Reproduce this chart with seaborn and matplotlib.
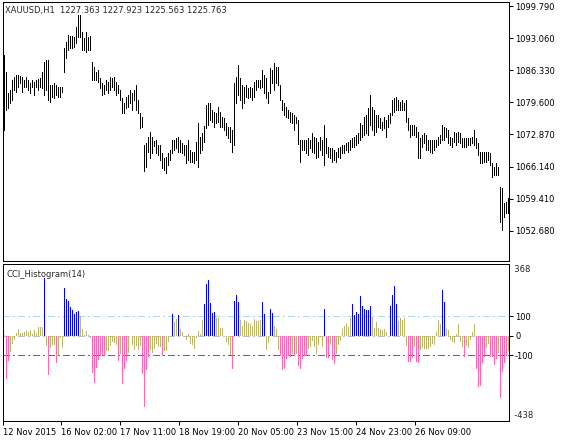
import matplotlib.pyplot as plt
import numpy as np
import pandas as pd
import seaborn as sns

# XAUUSD H1 bars (high / low)
bar_high = [
    1089.6, 1086.0, 1081.6, 1082.2, 1084.3, 1084.9, 1085.4, 1085.4, 1085.2, 1084.9,
    1084.3, 1084.9, 1084.3, 1083.7, 1084.3, 1083.9, 1084.3, 1084.5, 1084.7, 1086.0,
    1088.1, 1088.5, 1088.5, 1083.3, 1083.3, 1083.7, 1083.3, 1082.8, 1082.8, 1082.8,
    1091.0, 1092.3, 1093.8, 1093.5, 1093.5, 1093.3, 1095.4, 1098.0, 1098.0, 1094.4,
    1093.1, 1094.4, 1093.3, 1093.5, 1088.1, 1087.0, 1086.0, 1086.4, 1084.7, 1083.7,
    1083.3, 1084.3, 1083.9, 1084.9, 1084.7, 1084.9, 1083.9, 1083.3, 1082.2, 1080.5,
    1079.5, 1080.7, 1081.2, 1082.2, 1081.6, 1082.2, 1083.3, 1080.1, 1077.4, 1076.5,
    1070.6, 1071.1, 1072.3, 1073.4, 1072.3, 1071.5, 1071.7, 1070.6, 1070.6, 1069.0,
    1067.9, 1068.1, 1069.0, 1069.6, 1071.7, 1071.7, 1072.1, 1072.3, 1071.7, 1071.1,
    1070.6, 1070.6, 1071.7, 1069.6, 1069.2, 1069.2, 1071.3, 1075.3, 1072.3, 1073.2,
    1074.6, 1079.0, 1079.5, 1079.5, 1078.0, 1077.6, 1077.4, 1078.6, 1077.6, 1076.5,
    1076.3, 1075.3, 1074.4, 1074.4, 1073.8, 1083.7, 1084.9, 1087.5, 1084.7, 1083.3,
    1082.8, 1083.3, 1082.6, 1082.8, 1082.6, 1083.9, 1084.3, 1084.3, 1084.3, 1086.4,
    1085.4, 1084.7, 1081.8, 1086.8, 1086.4, 1087.9, 1087.0, 1087.0, 1083.3, 1080.1,
    1079.5, 1078.6, 1078.0, 1077.6, 1077.4, 1077.0, 1076.5, 1075.9, 1071.7, 1071.7,
    1071.7, 1071.7, 1072.1, 1071.7, 1073.2, 1072.3, 1072.1, 1071.3, 1072.3, 1071.7,
    1074.9, 1072.1, 1070.2, 1070.0, 1070.0, 1069.6, 1069.2, 1070.0, 1070.2, 1070.6,
    1070.6, 1071.1, 1071.3, 1071.7, 1072.1, 1072.3, 1072.8, 1073.2, 1075.3, 1074.9,
    1076.5, 1077.0, 1078.4, 1081.2, 1078.6, 1078.0, 1077.0, 1077.0, 1076.3, 1075.5,
    1076.5, 1075.9, 1077.0, 1077.4, 1080.1, 1080.5, 1080.7, 1080.1, 1079.7, 1080.1,
    1079.5, 1080.1, 1076.3, 1074.9, 1074.9, 1074.9, 1074.4, 1073.4, 1072.1, 1072.8,
    1073.2, 1072.8, 1071.7, 1071.7, 1071.7, 1071.7, 1071.7, 1072.3, 1072.8, 1074.9,
    1074.4, 1074.2, 1073.8, 1072.3, 1072.1, 1073.4, 1073.2, 1073.4, 1073.2, 1072.1,
    1072.1, 1072.1, 1072.1, 1072.1, 1072.3, 1073.8, 1072.1, 1071.1, 1069.2, 1069.2,
    1069.2, 1069.2, 1069.2, 1069.0, 1066.9, 1066.0, 1066.9, 1066.0, 1061.8, 1061.6,
    1058.5, 1058.7, 1059.6,
]
bar_low = [
    1073.8, 1078.0, 1078.4, 1079.5, 1080.1, 1082.2, 1081.8, 1082.8, 1083.7, 1081.8,
    1082.8, 1082.8, 1082.2, 1081.6, 1082.8, 1081.2, 1082.8, 1082.2, 1082.8, 1082.6,
    1081.2, 1082.2, 1080.1, 1079.7, 1080.7, 1080.5, 1081.2, 1080.7, 1080.7, 1081.8,
    1086.0, 1088.9, 1090.6, 1091.0, 1091.0, 1091.2, 1092.1, 1093.3, 1093.3, 1090.6,
    1090.6, 1090.2, 1090.6, 1090.6, 1084.3, 1084.3, 1084.3, 1083.9, 1082.6, 1081.2,
    1081.4, 1082.2, 1081.6, 1082.2, 1082.8, 1082.2, 1081.2, 1081.6, 1080.1, 1077.4,
    1077.4, 1078.4, 1078.6, 1079.5, 1078.0, 1080.1, 1078.0, 1077.4, 1074.2, 1074.4,
    1065.2, 1066.0, 1069.2, 1067.9, 1069.0, 1070.5, 1069.0, 1068.6, 1067.5, 1065.8,
    1065.4, 1064.8, 1066.5, 1067.5, 1069.0, 1069.6, 1070.0, 1069.2, 1069.2, 1069.0,
    1068.6, 1066.9, 1067.5, 1067.1, 1067.1, 1066.9, 1067.5, 1066.0, 1069.0, 1069.6,
    1071.3, 1074.2, 1074.9, 1075.9, 1075.5, 1074.4, 1075.3, 1075.5, 1074.4, 1074.4,
    1073.8, 1072.8, 1072.1, 1071.3, 1069.2, 1070.6, 1079.5, 1081.2, 1080.1, 1078.4,
    1079.5, 1080.7, 1080.5, 1080.7, 1080.1, 1080.7, 1082.2, 1082.8, 1082.6, 1082.8,
    1081.6, 1080.5, 1079.5, 1081.6, 1083.7, 1082.2, 1083.7, 1083.3, 1080.1, 1078.0,
    1077.0, 1076.5, 1076.3, 1075.5, 1075.3, 1073.8, 1075.3, 1070.9, 1067.1, 1069.6,
    1069.6, 1069.0, 1068.6, 1070.0, 1069.2, 1069.0, 1067.9, 1068.1, 1069.6, 1068.6,
    1066.5, 1069.0, 1068.1, 1067.9, 1067.1, 1067.5, 1067.1, 1068.1, 1067.9, 1069.0,
    1069.0, 1069.6, 1069.2, 1069.6, 1070.2, 1070.2, 1070.6, 1071.1, 1071.7, 1072.3,
    1072.8, 1073.2, 1072.8, 1074.9, 1073.8, 1072.8, 1073.4, 1074.4, 1074.2, 1073.8,
    1074.2, 1072.3, 1074.4, 1075.3, 1076.9, 1077.6, 1078.0, 1078.0, 1078.0, 1078.0,
    1078.0, 1075.5, 1073.8, 1072.3, 1072.8, 1072.8, 1072.3, 1067.9, 1067.9, 1070.2,
    1071.1, 1069.6, 1069.6, 1069.2, 1069.0, 1069.6, 1070.2, 1070.6, 1071.1, 1071.7,
    1071.7, 1072.3, 1071.1, 1070.6, 1070.2, 1071.3, 1070.6, 1071.3, 1071.1, 1070.2,
    1070.2, 1070.2, 1070.6, 1070.6, 1071.1, 1070.6, 1070.0, 1068.6, 1066.9, 1066.9,
    1067.1, 1067.1, 1067.5, 1066.5, 1063.9, 1064.4, 1064.4, 1064.4, 1054.5, 1052.8,
    1055.5, 1056.4, 1056.4,
]

# CCI(14) histogram values
cci_values = [
    4, -220, -132, -85, -44, -24, 12, 32, 15, 14,
    18, 26, 18, 30, 8, 30, 15, 45, 44, 46,
    297, -53, -203, -63, -50, -46, -140, -98, -10, -63,
    246, 186, 178, 147, 130, 109, 121, 125, 96, 36,
    3, 22, 5, -12, -191, -243, -166, -126, -105, -105,
    -106, -80, -80, -53, -34, -38, -50, -132, -95, -250,
    -169, -132, -89, 0, -50, -75, -55, -75, -53, -195,
    -366, -174, -109, -72, -89, -67, -41, -58, -58, -103,
    -79, -79, -34, 0, 113, 70, 87, 108, 34, 21,
    0, -24, 7, -44, -50, -67, -10, 24, 10, 79,
    164, 267, 284, 169, 118, 123, 92, 92, 41, 41,
    0, -32, -46, -98, -169, 179, 210, 174, 79, 51,
    82, 75, 67, 62, 48, 87, 77, 77, 82, 174,
    113, -72, -38, 138, 118, 51, 32, -75, -106, -174,
    -169, -121, -105, -109, -92, -102, -92, -157, -169, -118,
    -105, -106, -67, -58, -27, -58, -96, -50, -5, -58,
    138, -116, -116, -50, -126, -147, -96, -50, -26, 34,
    48, 67, 46, 91, 164, 104, 121, 113, 205, 150,
    138, 133, 133, 150, 95, 41, 72, 41, 36, 27,
    36, 21, 0, 150, 207, 256, 161, 74, 92, 78,
    92, -55, -137, -137, -116, -60, -137, -142, -75, -62,
    -70, -68, -67, -58, -44, -50, 21, 82, 62, 236,
    173, 34, 31, -24, -32, -38, 10, 62, -34, -58,
    -109, -55, -63, -24, 17, 62, -173, -263, -260, -140,
    -109, -62, -43, -109, -109, -150, -120, -89, -321, -186,
    -138, -105, -79,
]

price_ticks = [1099.790, 1093.060, 1086.330, 1079.600, 1072.870, 1066.140, 1059.410, 1052.680]
cci_ticks = [100, 0, -100]
cci_range = [-438, 368]
time_labels = ['12 Nov 2015', '16 Nov 02:00', '17 Nov 11:00', '18 Nov 19:00',
               '20 Nov 05:00', '23 Nov 15:00', '24 Nov 23:00', '26 Nov 09:00']
time_label_bars = [-0.5, 28.5, 58, 87.5, 117, 146.5, 176, 205.5]

n = len(cci_values)
bars = np.arange(n)

sns.set_style("white")
plt.rcParams['font.family'] = ['DejaVu Sans']
plt.rcParams['font.size'] = 6

W, H = 566, 442
px = 72 / 100  # one pixel in points


def box(x0, y0, x1, y1):
    return [x0 / W, 1 - y1 / H, (x1 - x0) / W, (y1 - y0) / H]


fig = plt.figure(figsize=(W / 100, H / 100), dpi=100)
ax1 = fig.add_axes(box(3, 2, 509, 261))
ax2 = fig.add_axes(box(3, 264, 509, 421))

# price bars
ax1.vlines(bars, bar_low, bar_high, color='black', lw=px, antialiased=False)
ax1.set_xlim(-0.5, n - 0.5)
ax1.set_ylim(1046.3, 1100.7)
ax1.set_xticks([])
ax1.yaxis.tick_right()
ax1.set_yticks(price_ticks)
ax1.set_yticklabels([f'{p:.3f}' for p in price_ticks])
ax1.text(0.004, 0.968, 'XAUUSD,H1  1227.363 1227.923 1225.563 1225.763',
         transform=ax1.transAxes, fontsize=6, va='center', ha='left')

# CCI histogram
df = pd.DataFrame({'bar': bars, 'cci': cci_values})
df['zone'] = np.where(df['cci'] > 100, 'up', np.where(df['cci'] < -100, 'down', 'mid'))
levels = [(100, '#ADD8E6'), (0, '#C0C0C0'), (-100, '#FF00FF')]
for lvl, col in levels:
    ax2.axhline(lvl, color=col, lw=px, ls=(0, (6, 3, 2, 3)), zorder=0.5,
                antialiased=False)
sns.barplot(data=df, x='bar', y='cci', hue='zone', native_scale=True, dodge=False,
            palette={'up': '#0000FF', 'mid': '#BDB76B', 'down': '#FF69B4'},
            width=0.5, saturation=1, errorbar=None, legend=False,
            linewidth=0, antialiased=False, ax=ax2)
ax2.set_xlim(-0.5, n - 0.5)
ax2.set_ylim(*cci_range)
ax2.set_xlabel('')
ax2.set_ylabel('')
ax2.yaxis.tick_right()
ax2.set_yticks(cci_ticks)
ax2.set_yticklabels([str(v) for v in cci_ticks])
ax2.text(1.0, 0.995, '  ' + str(cci_range[1]), transform=ax2.transAxes,
         fontsize=6, va='top', ha='left')
ax2.text(1.0, 0.005, '  ' + str(cci_range[0]), transform=ax2.transAxes,
         fontsize=6, va='bottom', ha='left')
ax2.text(0.006, 0.935, 'CCI_Histogram(14)', transform=ax2.transAxes,
         fontsize=6, va='center', ha='left')
ax2.set_xticks(time_label_bars)
ax2.set_xticklabels(time_labels)
for lab in ax2.get_xticklabels():
    lab.set_horizontalalignment('left')

for ax in (ax1, ax2):
    for s in ax.spines.values():
        s.set_color('black')
        s.set_linewidth(px)
    ax.tick_params(axis='y', direction='out', length=4 * px, width=px, pad=1.5,
                   labelsize=6, colors='black', right=True, left=False)
    ax.tick_params(axis='x', direction='out', length=4 * px, width=px, pad=2,
                   labelsize=6, colors='black', bottom=True)
    ax.grid(False)

fig.savefig('out.png', dpi=100)
